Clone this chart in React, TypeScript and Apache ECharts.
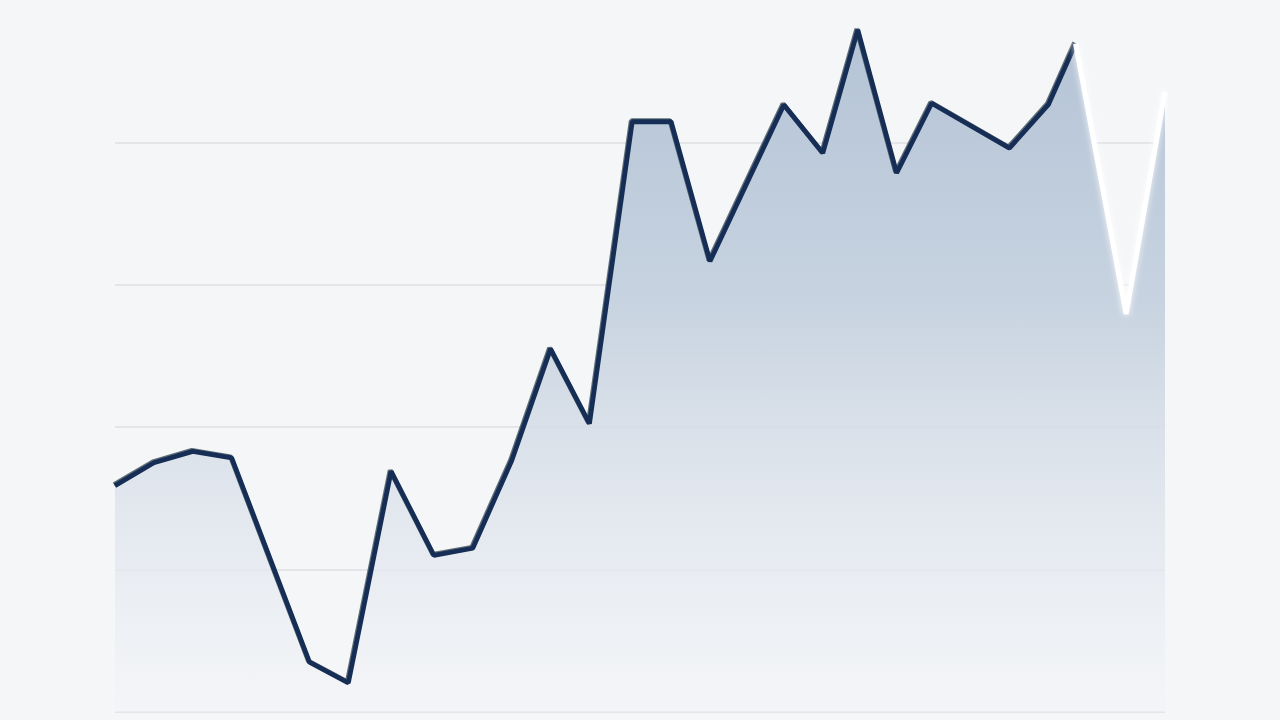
import React, { useEffect, useRef } from "react";
import * as echarts from "echarts";

// Position along the time axis (days) and value (0–100 scale)
const days = [0, 1.0, 2.0, 3.0, 5.0, 6.0, 7.1, 8.2, 9.2, 10.2, 11.2, 12.2, 13.3, 14.3, 15.3, 17.2, 18.2, 19.1, 20.1, 21.0, 23.0, 24.0, 24.7];
const values = [31.8, 35.0, 36.6, 35.7, 7.0, 4.1, 33.8, 22.0, 23.0, 35.3, 51.0, 40.5, 82.9, 82.9, 63.3, 85.3, 78.5, 95.8, 75.7, 85.5, 79.2, 85.3, 93.9];
const tailDays = [24.7, 26.0, 27.0];
const tailValues = [93.9, 55.9, 87.1];
const yTicks = [0, 20, 40, 60, 80, 100];

export default function App() {
  const ref = useRef<HTMLDivElement>(null);
  useEffect(() => {
    if (!ref.current) return;
    const chart = echarts.init(ref.current, undefined, { renderer: "svg" });
    const areaGrad = new echarts.graphic.LinearGradient(0, 28, 0, 712, [
      { offset: 0, color: "rgba(180,195,214,1)" },
      { offset: 0.4, color: "rgba(199,211,224,1)" },
      { offset: 0.58, color: "rgba(213,221,231,0.88)" },
      { offset: 0.79, color: "rgba(228,233,240,0.75)" },
      { offset: 1, color: "rgba(242,244,247,0.55)" },
    ], true);
    const mainData = days.map((d, i) => [d, values[i]]);
    const tailData = tailDays.map((d, i) => [d, tailValues[i]]);
    const allData = mainData.concat(tailData.slice(1));
    chart.setOption({
      animation: false,
      backgroundColor: "#f5f6f8",
      grid: { left: 115, right: 115, top: -2, bottom: 8 },
      xAxis: {
        type: "value",
        min: 0,
        max: 27,
        show: false,
      },
      yAxis: {
        type: "value",
        min: yTicks[0],
        max: yTicks[yTicks.length - 1],
        interval: 20,
        axisLine: { show: false },
        axisTick: { show: false },
        axisLabel: { show: false },
        splitLine: {
          show: true,
          showMaxLine: false,
          lineStyle: { color: "#e3e5e9", width: 2 },
        },
      },
      series: [
        {
          type: "line",
          data: allData,
          symbol: "none",
          lineStyle: { width: 0, opacity: 0 },
          areaStyle: { color: areaGrad, opacity: 1 },
          z: 2,
        },
        {
          type: "line",
          data: mainData,
          symbol: "none",
          lineStyle: {
            color: "#142f55",
            width: 4.8,
            shadowColor: "rgba(5,15,30,0.6)",
            shadowBlur: 1,
            shadowOffsetX: -1,
            shadowOffsetY: -1,
          },
          z: 3,
        },
        {
          type: "line",
          data: tailData,
          symbol: "none",
          lineStyle: {
            color: "#ffffff",
            width: 5,
            shadowColor: "rgba(255,255,255,0.9)",
            shadowBlur: 6,
          },
          z: 3,
        },
      ],
    });
    return () => chart.dispose();
  }, []);
  return (
    <div
      ref={ref}
      style={{ position: "fixed", left: 0, top: 0, width: 1280, height: 720 }}
    />
  );
}
